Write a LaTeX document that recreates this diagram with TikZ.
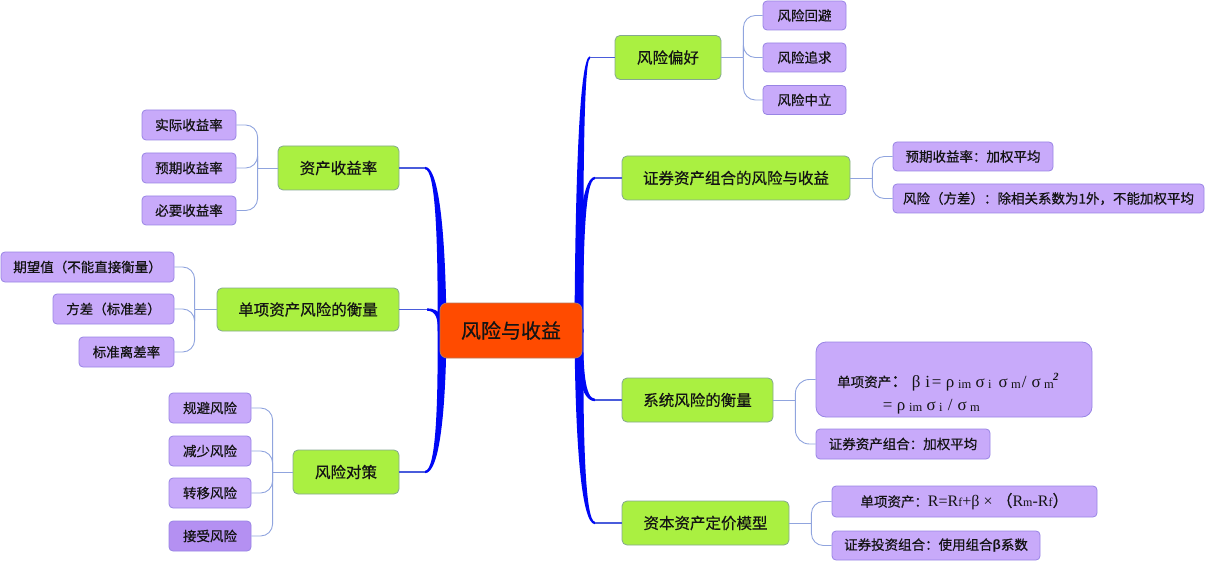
\documentclass[tikz,border=0pt]{standalone}
\usepackage{fontspec}
\setmainfont{Noto Sans CJK SC}[FakeBold=0.6]
\newfontfamily\serf{Liberation Serif}
\newfontfamily\sansb{Liberation Sans}
\usetikzlibrary{calc}
\definecolor{gfill}{HTML}{AAF041}
\definecolor{gborder}{HTML}{84A890}
\definecolor{pfill}{HTML}{C8AAFA}
\definecolor{pdark}{HTML}{B490F2}
\definecolor{pborder}{HTML}{9884E4}
\definecolor{rfill}{HTML}{FF4B00}
\definecolor{rborder}{HTML}{B8775A}
\definecolor{trunkc}{HTML}{0008F5}
\definecolor{hlinkc}{HTML}{4A5CDB}
\definecolor{sublinkc}{HTML}{90A4DE}
\definecolor{txt}{HTML}{141414}
\newcommand\bx[2]{\makebox[#1pt][c]{#2}}
\newcommand\sbx[2]{\makebox[#1pt][l]{\raisebox{-1.5pt}{\fontsize{12.5}{13}\selectfont #2}}}
\newcommand\trunkbr[4]{%
 \pgfmathsetmacro\tbdd{1.2*sign(#3-#1)*sign(#4-#2)}%
 \pgfmathsetmacro\tbym{#4+0.45*(#2-#4)}%
 \pgfmathsetmacro\tbxm{#1+0.25*(#3-#1)}%
 \fill[trunkc] ({#1-4.5},#2) .. controls ({#1-3.8},\tbym) and ({\tbxm-2.2},{#4+\tbdd}) .. (#3,{#4+\tbdd}) -- (#3,{#4-\tbdd}) .. controls ({\tbxm+2.2},{#4-\tbdd}) and ({#1+3.8},\tbym) .. ({#1+4.5},#2) -- cycle;}
\tikzset{
 gnode/.style={draw=gborder, fill=gfill, rounded corners=5pt, line width=0.8pt, font=\fontsize{15.5}{18}\selectfont, text=txt, inner sep=0pt, minimum height=44pt},
 pleaf/.style={draw=pborder, fill=pfill, rounded corners=4pt, line width=0.8pt, font=\fontsize{13.5}{16}\selectfont, text=txt, inner sep=0pt, minimum height=30pt},
 root/.style={draw=rborder, fill=rfill, rounded corners=7pt, line width=0.8pt, font=\fontsize{20}{24}\selectfont, text=txt, inner sep=0pt, minimum width=142pt, minimum height=55pt},
 hlink/.style={draw=hlinkc, line width=1.4pt},
 sublink/.style={draw=sublinkc, line width=0.9pt, rounded corners=12pt},
}
\begin{document}
\begin{tikzpicture}[x=1pt,y=-1pt]
\useasboundingbox (0,0) rectangle (1206,561);
% thick trunks
\trunkbr{579}{331}{590}{57.5}
\trunkbr{579}{331}{595}{178}
\trunkbr{579}{331}{595}{400}
\trunkbr{579}{331}{595}{523}
\trunkbr{442}{331}{425}{168}
\trunkbr{442}{331}{427}{309.5}
\trunkbr{442}{331}{425}{472}
% root
\node[root] (c) at (511,330.5) {风险与收益};
% main branches
\node[gnode, minimum width=106pt] (g1) at (668,57.5) {风险偏好};
\node[gnode, minimum width=228pt] (g2) at (736,178) {证券资产组合的风险与收益};
\node[gnode, minimum width=151pt] (g3) at (697.5,400) {系统风险的衡量};
\node[gnode, minimum width=167pt] (g4) at (705.5,523) {资本资产定价模型};
\node[gnode, minimum width=121pt] (g5) at (338.5,168) {资产收益率};
\node[gnode, minimum width=182pt, minimum height=43pt] (g6) at (308,309.5) {单项资产风险的衡量};
\node[gnode, minimum width=106pt] (g7) at (346,472) {风险对策};
% right leaves
\node[pleaf, minimum width=83pt, minimum height=29pt] (p1) at (804.5,15.5) {风险回避};
\node[pleaf, minimum width=83pt, minimum height=29pt] (p2) at (804.5,57.5) {风险追求};
\node[pleaf, minimum width=83pt, minimum height=29pt] (p3) at (804.5,100) {风险中立};
\node[pleaf, minimum width=160pt, minimum height=29pt] (p4) at (973,156.5) {预期收益率：加权平均};
\node[pleaf, minimum width=311pt, minimum height=29pt] (p5) at (1048.5,198.5) {风险（方差）：除相关系数为1外，不能加权平均};
\node[pleaf, minimum width=276pt, minimum height=75pt, rounded corners=10pt] (p6) at (954,379.5) {};
\node[anchor=base west, inner sep=0pt, text=txt] (f1) at (837,387) {{\fontsize{13.5}{16}\selectfont 单项资产}\bx{17}{\fontsize{17}{18}\selectfont ：}{\serf\fontsize{17}{18}\selectfont \bx{16}{β}\bx{7}{i}\bx{11}{=}\bx{16}{ρ}\sbx{14}{im}\bx{16}{σ}\sbx{7}{i}\bx{16}{σ}\sbx{9}{m}\bx{8}{/}\bx{16}{σ}\sbx{9}{m}\raisebox{7pt}{\fontsize{11}{12}\selectfont\bfseries\itshape 2}}};
\node[anchor=base west, inner sep=0pt, text=txt] (f2) at (882,410) {{\serf\fontsize{17}{18}\selectfont \bx{11}{=}\bx{16}{ρ}\sbx{14}{im}\bx{16}{σ}\sbx{7}{i}\bx{8}{/}\bx{16}{σ}\sbx{9}{m}}};
\node[pleaf, minimum width=174pt] (p7) at (903,444) {证券资产组合：加权平均};
\node[pleaf, minimum width=265pt, minimum height=31pt] (p8) at (964.5,501.5) {单项资产：{\serf\fontsize{16}{18}\selectfont R=R{\fontsize{12}{13}\selectfont f}+β\hspace{4pt}×\hspace{4pt}}{\fontsize{16}{18}\selectfont （}{\serf\fontsize{16}{18}\selectfont R{\fontsize{12}{13}\selectfont m}-R{\fontsize{12}{13}\selectfont f}}{\fontsize{16}{18}\selectfont ）}\hspace{20pt}};
\node[pleaf, minimum width=208pt, minimum height=29pt] (p9) at (936,545.5) {证券投资组合：使用组合{\sansb\bfseries β}系数};
% left leaves
\node[pleaf, minimum width=94pt] (l1) at (189,125) {实际收益率};
\node[pleaf, minimum width=94pt] (l2) at (189,168) {预期收益率};
\node[pleaf, minimum width=94pt, minimum height=29pt] (l3) at (189,210.5) {必要收益率};
\node[pleaf, minimum width=173pt] (l4) at (87.5,267) {期望值（不能直接衡量）};
\node[pleaf, minimum width=121pt] (l5) at (113.5,309) {方差（标准差）};
\node[pleaf, minimum width=95pt] (l6) at (126.5,352) {标准离差率};
\node[pleaf, minimum width=82pt] (l7) at (210,408) {规避风险};
\node[pleaf, minimum width=82pt] (l8) at (210,451) {减少风险};
\node[pleaf, minimum width=82pt] (l9) at (210,493) {转移风险};
\node[pleaf, minimum width=82pt, fill=pdark] (l10) at (210,536) {接受风险};
% corners of trunks
\coordinate (k1) at (590,57.5);
\coordinate (k2) at (595,178);
\coordinate (k3) at (595,400);
\coordinate (k4) at (595,523);
\coordinate (k5) at (425,168);
\coordinate (k6) at (427,309.5);
\coordinate (k7) at (425,472);
\draw[hlink] (k1) -- (g1.west);
\draw[hlink] (k2) -- (g2.west);
\draw[hlink] (k3) -- (g3.west);
\draw[hlink] (k4) -- (g4.west);
\draw[hlink] (k5) -- (g5.east);
\draw[hlink] (k6) -- (g6.east);
\draw[hlink] (k7) -- (g7.east);
% sub-branch spines
\coordinate (s1) at ($(g1.east)+(22,0)$);
\coordinate (s2) at ($(g2.east)+(22,0)$);
\coordinate (s3) at ($(g3.east)+(22,0)$);
\coordinate (s4) at ($(g4.east)+(22,0)$);
\coordinate (s5) at ($(g5.west)+(-20,0)$);
\coordinate (s6) at ($(g6.west)+(-22,0)$);
\coordinate (s7) at ($(g7.west)+(-20,0)$);
\draw[sublink] (g1.east) -- (s1);
\draw[sublink] (s1) |- (p1.west);
\draw[sublink] (s1) |- (p2.west);
\draw[sublink] (s1) |- (p3.west);
\draw[sublink] (g2.east) -- (s2);
\draw[sublink] (s2) |- (p4.west);
\draw[sublink] (s2) |- (p5.west);
\draw[sublink] (g3.east) -- (s3);
\draw[sublink, rounded corners=14pt] (s3) |- (p6.west);
\draw[sublink, rounded corners=14pt] (s3) |- (p7.west);
\draw[sublink] (g4.east) -- (s4);
\draw[sublink] (s4) |- (p8.west);
\draw[sublink] (s4) |- (p9.west);
\draw[sublink] (g5.west) -- (s5);
\draw[sublink] (s5) |- (l1.east);
\draw[sublink] (s5) |- (l2.east);
\draw[sublink] (s5) |- (l3.east);
\draw[sublink] (g6.west) -- (s6);
\draw[sublink] (s6) |- (l4.east);
\draw[sublink] (s6) |- (l5.east);
\draw[sublink] (s6) |- (l6.east);
\draw[sublink] (g7.west) -- (s7);
\draw[sublink] (s7) |- (l7.east);
\draw[sublink] (s7) |- (l8.east);
\draw[sublink] (s7) |- (l9.east);
\draw[sublink] (s7) |- (l10.east);
\end{tikzpicture}
\end{document}
